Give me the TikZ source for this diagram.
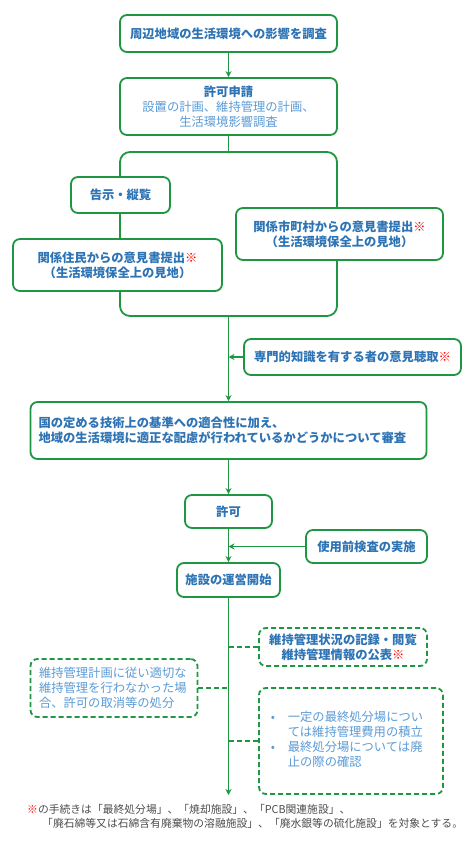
\documentclass[tikz,border=0pt]{standalone}
\usepackage{fontspec}
\setmainfont{Noto Sans CJK JP}
\usetikzlibrary{arrows.meta}
\definecolor{flowgreen}{HTML}{1E9642}
\definecolor{flowblue}{HTML}{2E74B5}
\definecolor{paleblue}{HTML}{5B9BD5}
\newcommand{\kome}{\textcolor{red}{※}}
\newcommand{\bodyfont}{\fontsize{12.3}{15}\selectfont}

\begin{document}
\begin{tikzpicture}[x=1pt,y=-1pt,>={Stealth[length=6pt,width=6pt]},
  box/.style={draw=flowgreen,line width=1.8pt,rounded corners=7pt,fill=white,text=flowblue,
    font=\bodyfont\bfseries,align=center,inner sep=0pt},
  dbox/.style={box,dash pattern=on 5pt off 3pt},
  pale/.style={text=paleblue,font=\bodyfont},
  link/.style={flowgreen,line width=1.8pt}]
\useasboundingbox (0,0) rectangle (474,842);
\node[draw=flowgreen,line width=1.8pt,rounded corners=10pt,minimum width=217pt,minimum height=164pt,inner sep=0pt] (loop) at (228.5,234) {};
\node[box,minimum width=217pt,minimum height=37pt] (survey) at (228.5,33.5) {周辺地域の生活環境への影響を調査};
\node[box,minimum width=217pt,minimum height=57pt,font=\bodyfont] (apply) at (228.5,106.5)
  {{\bfseries 許可申請}\\{\color{paleblue}設置の計画、維持管理の計画、}\\{\color{paleblue}生活環境影響調査}};
\node[box,minimum width=99pt,minimum height=36pt] (notice) at (120.5,195) {告示・縦覧};
\node[box,minimum width=209pt,minimum height=52pt] (resident) at (117.5,265) {関係住民からの意見書提出\kome\\（生活環境保全上の見地）};
\node[box,minimum width=207pt,minimum height=52pt] (city) at (339.5,234) {関係市町村からの意見書提出\kome\\（生活環境保全上の見地）};
\node[box,minimum width=217pt,minimum height=36pt] (expert) at (352.5,357) {専門的知識を有する者の意見聴取\kome};
\node[box,text width=380pt,inner xsep=8pt,minimum height=57pt,align=left] (review) at (228.5,430.5)
  {国の定める技術上の基準への適合性に加え、\\地域の生活環境に適正な配慮が行われているかどうかについて審査};
\node[box,minimum width=87pt,minimum height=33pt] (permit) at (228.5,511.5) {許可};
\node[box,minimum width=121pt,minimum height=33pt] (inspect) at (366.5,546.5) {使用前検査の実施};
\node[box,minimum width=103pt,minimum height=34pt] (start) at (228.5,580) {施設の運営開始};
\node[dbox,minimum width=168pt,minimum height=38pt] (record) at (343,647) {維持管理状況の記録・閲覧\\維持管理情報の公表\kome};
\node[dbox,pale,text width=150pt,inner xsep=8.5pt,minimum height=58pt,align=left] (revoke) at (114,688)
  {維持管理計画に従い適切な\\維持管理を行わなかった場\\合、許可の取消等の処分};
\node[dbox,pale,minimum width=184pt,minimum height=106pt] (fund) at (351,741)
  {\begin{tabular}{@{}l@{}l@{\hspace{8pt}}}
   \makebox[17pt][l]{•} & 一定の最終処分場につい\\
    & ては維持管理費用の積立\\
   \makebox[17pt][l]{•} & 最終処分場については廃\\
    & 止の際の確認
   \end{tabular}};
\coordinate (bottom) at (228.5,795);
\draw[link,->] (survey.south) -- (apply.north);
\draw[link] (apply.south) -- (loop.north);
\draw[link,->] (loop.south) -- (review.north);
\draw[link,->] (expert.west) -- (loop.south |- expert.west);
\draw[link,->] (review.south) -- (permit.north);
\draw[link,->] (permit.south) -- (start.north);
\draw[link,->] (inspect.west) -- (permit.south |- inspect.west);
\draw[link,->] (start.south) -- (bottom);
\draw[link,dash pattern=on 5pt off 3pt] (record.west) -- (start.south |- record.west);
\draw[link,dash pattern=on 5pt off 3pt] (revoke.east) -- (start.south |- revoke.east);
\draw[link,dash pattern=on 5pt off 3pt] (fund.west) -- (start.south |- fund.west);
\node[anchor=west,inner sep=0pt,text=black!70,font=\fontsize{10.8}{13}\selectfont] (note1) at (27,809)
  {\kome の手続きは「最終処分場」、「焼却施設」、「PCB関連施設」、};
\node[anchor=west,inner sep=0pt,text=black!70,font=\fontsize{10.8}{13}\selectfont] (note2) at (42,823)
  {「廃石綿等又は石綿含有廃棄物の溶融施設」、「廃水銀等の硫化施設」を対象とする。};
\end{tikzpicture}
\end{document}
